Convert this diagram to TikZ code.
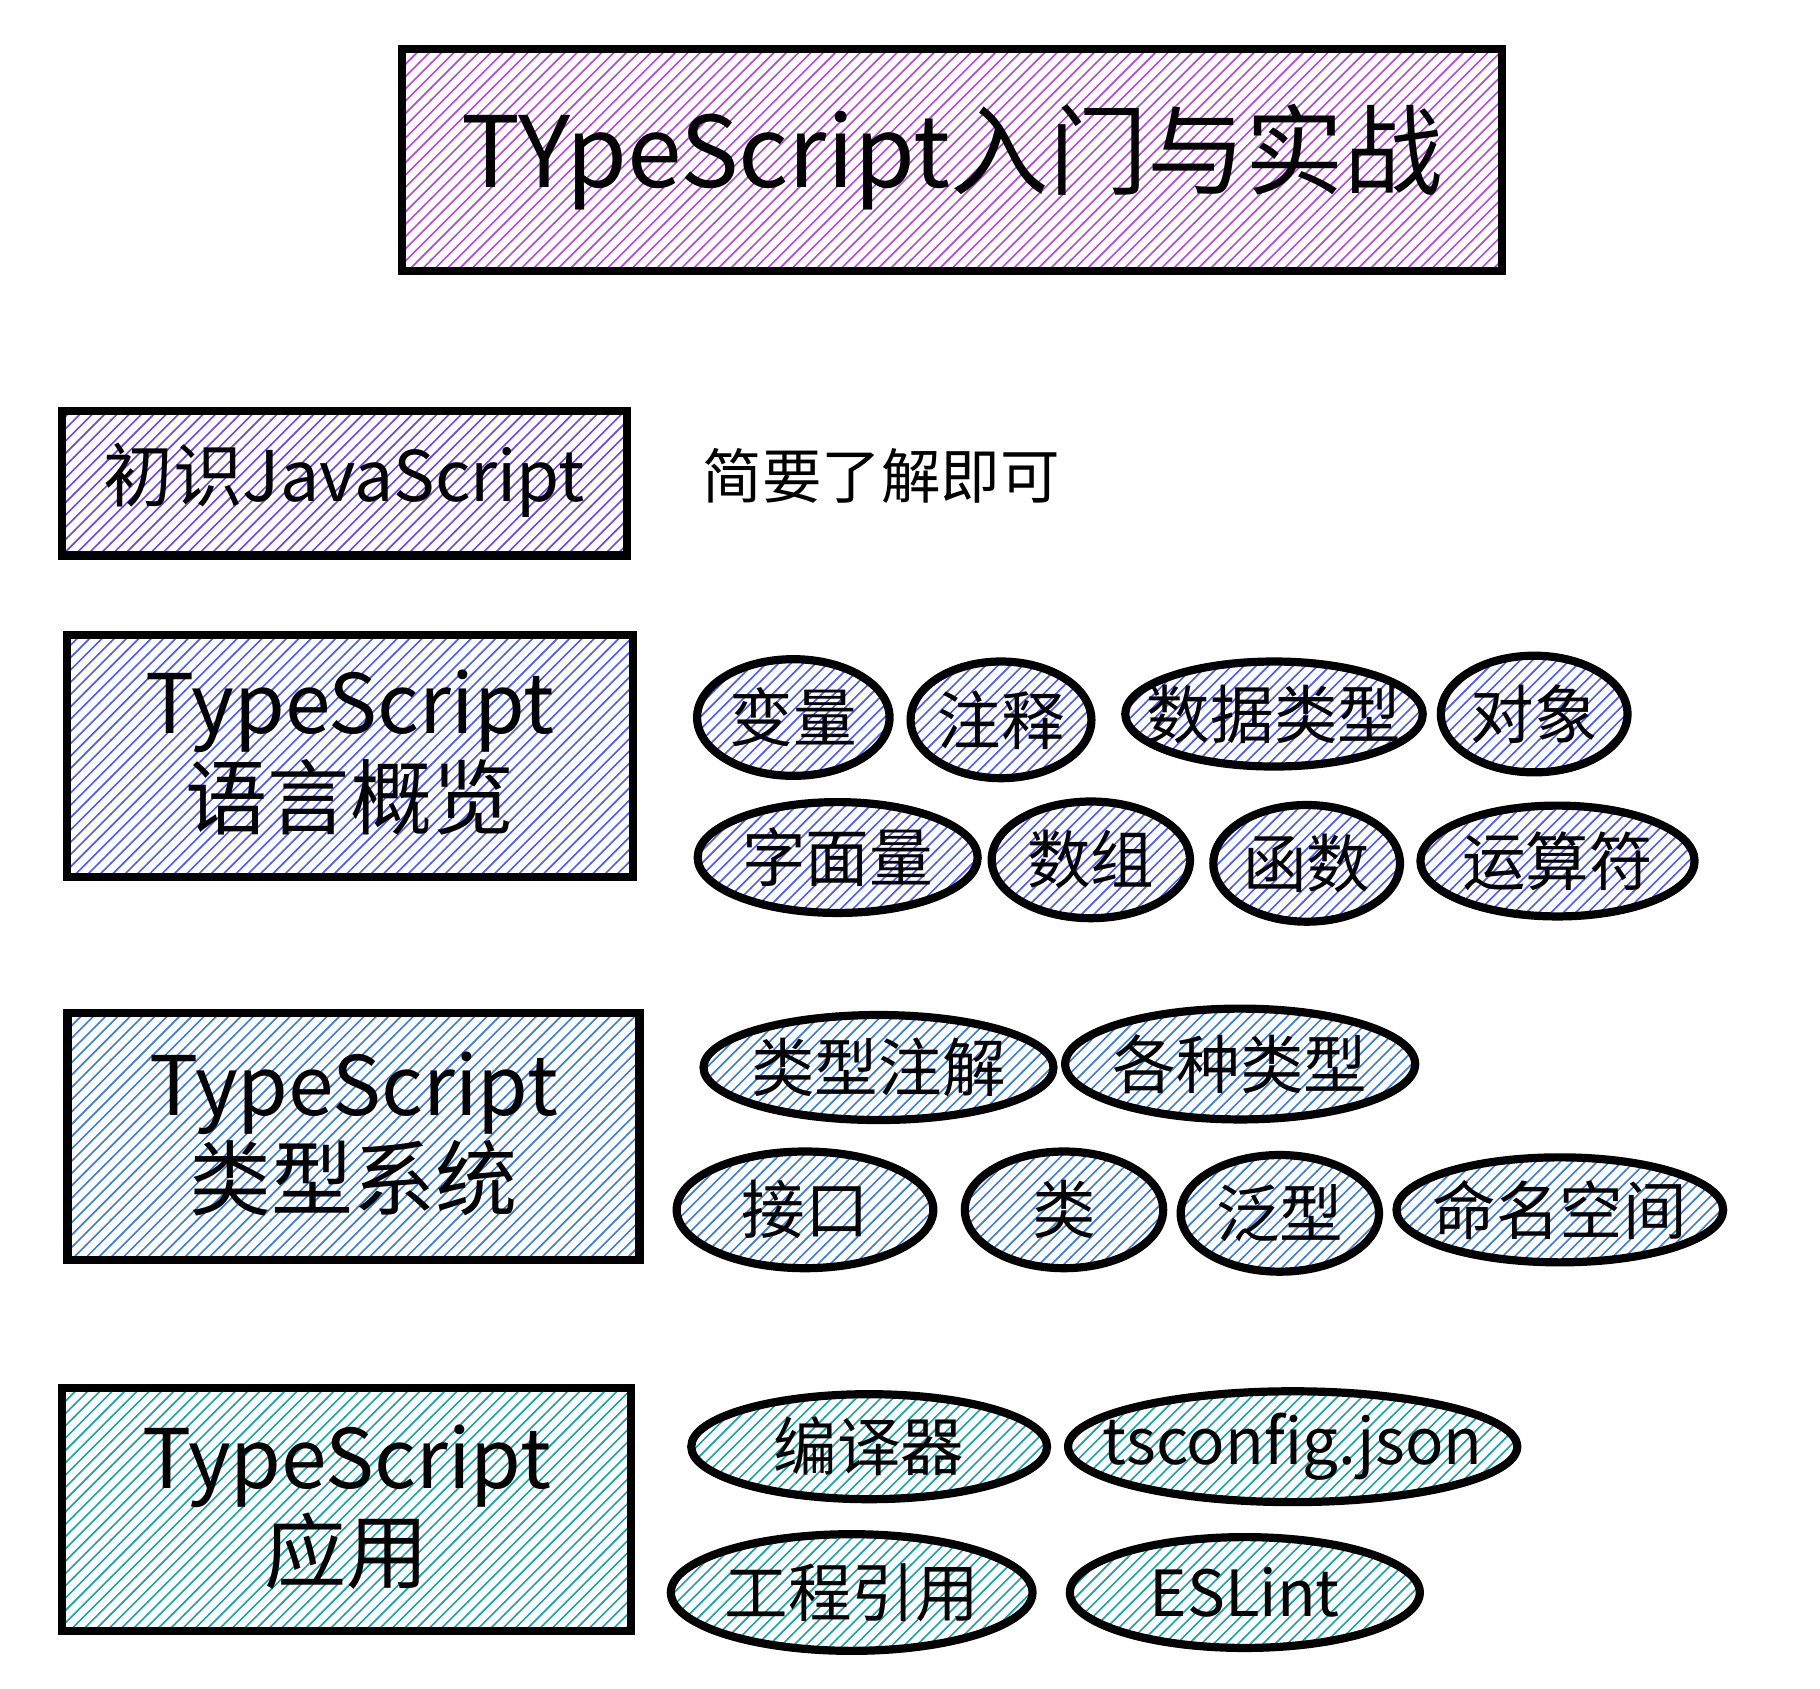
\documentclass[tikz,border=0pt]{standalone}
\usepackage{fontspec}
\setmainfont{Noto Sans CJK SC}
\usetikzlibrary{shapes.geometric,patterns}
\definecolor{cTitle}{HTML}{B54BDB}
\definecolor{cJs}{HTML}{7048E8}
\definecolor{cLang}{HTML}{4C5EF5}
\definecolor{cType}{HTML}{3B7EDB}
\definecolor{cApp}{HTML}{1AA3AF}
\tikzset{
  box/.style={draw=black, line width=2pt, pattern=north east lines, inner sep=0pt},
  pill/.style={ellipse, draw=black, line width=2pt, pattern=north east lines, inner sep=0pt},
  pilltxt/.style={font=\fontsize{15.5}{18}\selectfont},
  boxtxt/.style={font=\fontsize{20}{23}\selectfont, align=center}
}
\begin{document}
\begin{tikzpicture}[x=0.01cm,y=-0.01cm]
\useasboundingbox (0,0) rectangle (1560,1447);
\node[box, pattern color=cTitle, minimum width=9.42cm, minimum height=1.9cm] (title) at (816,137) {};
\node[font=\fontsize{24}{28}\selectfont] (tt) at (816,135) {TYpeScript入门与实战};
\node[box, pattern color=cJs, minimum width=4.84cm, minimum height=1.24cm] (js) at (295,414) {};
\node[font=\fontsize{17}{20}\selectfont] (jst) at (295,412) {初识JavaScript};
\node[font=\fontsize{14.5}{18}\selectfont, anchor=west] (jsn) at (590,408) {简要了解即可};

\node[box, pattern color=cLang, minimum width=4.85cm, minimum height=2.07cm] (lang) at (300,648) {};
\node[boxtxt] (langt) at (300,645) {TypeScript\\语言概览};
\foreach \n/\t/\x/\y/\w/\h in {a/变量/680/615/165/100, b/注释/858/617/155/100, c/数据类型/1092/612/255/90, d/对象/1315/612/160/100, e/字面量/718/735/240/95, f/数组/935/737/170/100, g/函数/1120/740/160/100, h/运算符/1335/738/235/95}
  {\node[pill, pattern color=cLang, minimum width=\w*0.01cm, minimum height=\h*0.01cm] (\n) at (\x,\y) {};
   \node[pilltxt] (\n t) at (\x,\y) {\t};}

\node[box, pattern color=cType, minimum width=4.9cm, minimum height=2.12cm] (types) at (303,974) {};
\node[boxtxt] (typest) at (303,972) {TypeScript\\类型系统};
\foreach \n/\t/\x/\y/\w/\h in {i/类型注解/753/915/300/90, j/各种类型/1063/912/300/95, k/接口/690/1037/220/100, l/类/912/1037/170/100, m/泛型/1097/1040/170/100, n/命名空间/1337/1037/280/90}
  {\node[pill, pattern color=cType, minimum width=\w*0.01cm, minimum height=\h*0.01cm] (\n) at (\x,\y) {};
   \node[pilltxt] (\n t) at (\x,\y) {\t};}

\node[box, pattern color=cApp, minimum width=4.88cm, minimum height=2.08cm] (app) at (297,1294) {};
\node[boxtxt] (appt) at (297,1292) {TypeScript\\应用};
\foreach \n/\t/\x/\y/\w/\h in {o/编译器/745/1240/305/90, p/tsconfig.json/1108/1240/385/95, q/工程引用/730/1365/310/100, r/ESLint/1067/1365/300/95}
  {\node[pill, pattern color=cApp, minimum width=\w*0.01cm, minimum height=\h*0.01cm] (\n) at (\x,\y) {};
   \node[pilltxt] (\n t) at (\x,\y) {\t};}
\end{tikzpicture}
\end{document}
